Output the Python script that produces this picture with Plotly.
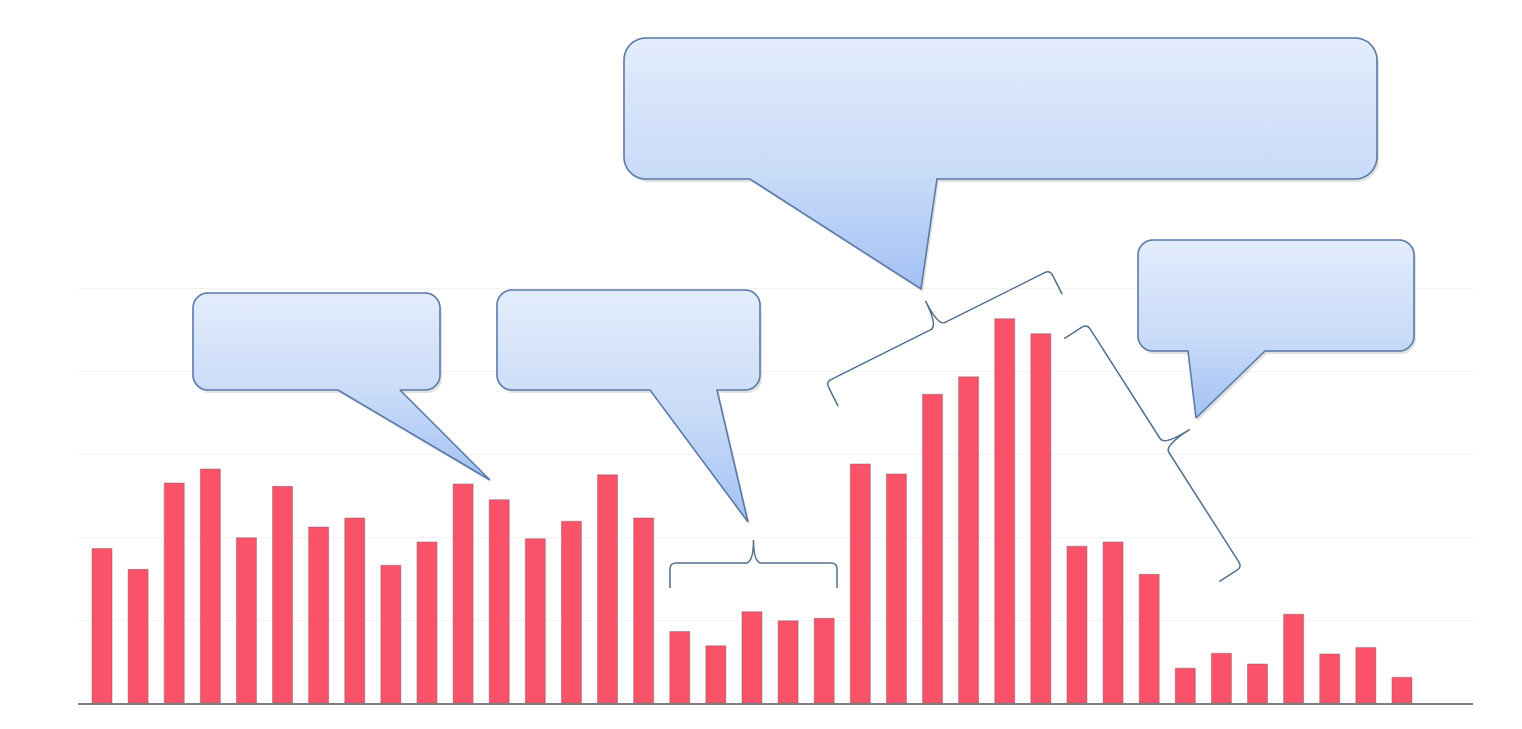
import numpy as np
import plotly.graph_objects as go

# ---------------- data ----------------
categories = [str(i) for i in range(1, 38)]
values = [18.6, 16.1, 26.5, 28.2, 19.9, 26.1, 21.2, 22.3, 16.6, 19.4,
          26.4, 24.5, 19.8, 21.9, 27.5, 22.3, 8.6, 6.9, 11.0, 9.9,
          10.2, 28.8, 27.6, 37.2, 39.3, 46.3, 44.5, 18.9, 19.4, 15.5,
          4.2, 6.0, 4.7, 10.7, 5.9, 6.7, 3.1]
grid_values = [10, 20, 30, 40, 50]

# ---------------- layout geometry (page pixels) ----------------
PAGE_W, PAGE_H = 1522, 729
OFF = 8                      # default body margin of the html page
W, H = PAGE_W - OFF, PAGE_H - OFF
PLOT_L, PLOT_R, BASE = 78, 1473, 703   # plot area in page pixels
L, R, T = PLOT_L - OFF, PAGE_W - PLOT_R, 0
B = H - (BASE - OFF)
PX_PER_UNIT = 8.3
CAT_W = 36.11
FIRST_CENTER = 102

x_start = -(FIRST_CENTER - PLOT_L) / CAT_W
x_end = x_start + (PLOT_R - PLOT_L) / CAT_W
plot_h = H - T - B
y_top = plot_h / PX_PER_UNIT


def py(y):
    """page pixel row -> overlay axis value (height above baseline)"""
    return BASE - y


# callouts: rect (x0, x1, y0, y1), radius, tail base left/right, tip
callouts = [
    dict(rect=(193, 440, 293, 390), r=15, tl=338, tr=400, tip=(490, 480)),
    dict(rect=(497, 760, 290, 390), r=15, tl=650, tr=717, tip=(748, 522)),
    dict(rect=(624, 1377, 38, 179), r=22, tl=750, tr=937, tip=(921, 289)),
    dict(rect=(1138, 1414, 240, 351), r=15, tl=1188, tr=1265, tip=(1196, 418)),
]

braces = [
    dict(p1=(670, 563), p2=(837, 563), c=23, hook=25),
    dict(p1=(826, 382), p2=(1050, 270), c=28, hook=27),
    dict(p1=(1087, 324), p2=(1242, 567), c=30, hook=27),
]


def arc(cx, cy, r, a0, a1, n=16):
    a = np.radians(np.linspace(a0, a1, n))
    return list(cx + r * np.cos(a)), list(cy + r * np.sin(a))


def callout_path(c):
    x0, x1, y0, y1 = c["rect"]
    r = c["r"]
    xs, ys = [], []
    xs += [x0 + r, x1 - r]; ys += [y0, y0]
    ax, ay = arc(x1 - r, y0 + r, r, -90, 0); xs += ax; ys += ay
    ax, ay = arc(x1 - r, y1 - r, r, 0, 90); xs += ax; ys += ay
    xs += [c["tr"], c["tip"][0], c["tl"]]; ys += [y1, c["tip"][1], y1]
    ax, ay = arc(x0 + r, y1 - r, r, 90, 180); xs += ax; ys += ay
    ax, ay = arc(x0 + r, y0 + r, r, 180, 270); xs += ax; ys += ay
    xs.append(xs[0]); ys.append(ys[0])
    return np.array(xs), np.array(ys)


def brace_path(b, r=6, k=8):
    p1 = np.array(b["p1"], float); p2 = np.array(b["p2"], float)
    d = (p2 - p1) / np.linalg.norm(p2 - p1)
    n = np.array([d[1], -d[0]])
    mid = (p1 + p2) / 2
    cusp = mid + b["c"] * n
    e1 = p1 - b["hook"] * n
    e2 = p2 - b["hook"] * n
    pts = [
        ("M", e1), ("L", p1 - r * n), ("Q", p1, p1 + r * d),
        ("L", mid - k * d), ("Q", mid, cusp), ("Q", mid, mid + k * d),
        ("L", p2 - r * d), ("Q", p2, p2 - r * n), ("L", e2),
    ]
    s = ""
    for item in pts:
        cmd = item[0]
        coords = " ".join(f"{p[0]:.2f},{py(p[1]):.2f}" for p in item[1:])
        s += f"{cmd} {coords} "
    return s.strip()


fig = go.Figure()

fig.add_trace(go.Bar(
    x=list(range(len(values))), y=values,
    width=0.555,
    marker=dict(color="#fa5369", line=dict(color="rgba(120,95,110,0.55)", width=0.8)),
    hoverinfo="skip", showlegend=False,
))

for c in callouts:
    xs, ys = callout_path(c)
    # soft shadow
    fig.add_trace(go.Scatter(
        x=xs + 2, y=py(ys + 3), xaxis="x2", yaxis="y2", mode="lines",
        fill="toself", fillcolor="rgba(60,60,60,0.15)",
        line=dict(width=0, simplify=False),
        hoverinfo="skip", showlegend=False,
    ))
    fig.add_trace(go.Scatter(
        x=xs, y=py(ys), xaxis="x2", yaxis="y2", mode="lines",
        fill="toself",
        fillgradient=dict(type="vertical",
                          colorscale=[[0, "#a3c1f4"], [0.45, "#c8dbf8"], [1, "#e3ecfb"]]),
        line=dict(color="#5a7aa8", width=1.6, simplify=False),
        hoverinfo="skip", showlegend=False,
    ))

shapes = []
for b in braces:
    shapes.append(dict(type="path", path=brace_path(b), xref="x2", yref="y2",
                       line=dict(color="#52708f", width=1.5), layer="above"))

fig.update_layout(
    width=W, height=H,
    margin=dict(l=L, r=R, t=T, b=B),
    paper_bgcolor="white", plot_bgcolor="white",
    showlegend=False,
    shapes=shapes,
    xaxis=dict(range=[x_start, x_end], showgrid=False, zeroline=False,
               showticklabels=False, ticks="", showline=True,
               linecolor="#7f7f7f", linewidth=1.5, fixedrange=True),
    yaxis=dict(range=[0, y_top], tickvals=grid_values, showticklabels=False,
               gridcolor="#f3f3f3", gridwidth=1, zeroline=False, ticks="",
               showline=False, fixedrange=True),
    xaxis2=dict(overlaying="x", anchor="y2", range=[PLOT_L, PLOT_R], visible=False,
                fixedrange=True),
    yaxis2=dict(overlaying="y", anchor="x2", range=[0, plot_h], visible=False,
                fixedrange=True),
)

fig.write_html("out.html")
